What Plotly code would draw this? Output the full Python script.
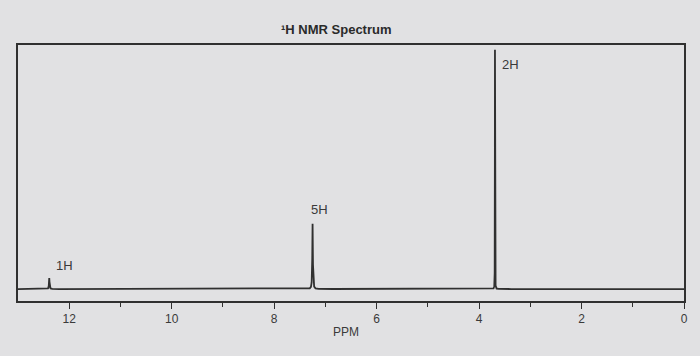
import numpy as np
import plotly.graph_objects as go

# Peak data (ppm, relative height, line width in ppm, integration label)
peak_ppm = [12.39, 7.25, 3.69]
peak_height = [4.6, 27.3, 100.0]
peak_width = [0.006, 0.006, 0.0015]
peak_label = ["1H", "5H", "2H"]
x_ticks = [12, 10, 8, 6, 4, 2, 0]

# Lorentzian line shape rendered from the peak list
ppm = np.linspace(13.0, 0.0, 52001)
spec = np.zeros_like(ppm)
for p, h, g in zip(peak_ppm, peak_height, peak_width):
    spec += h * g**2 / ((ppm - p) ** 2 + g**2)

line_col = "#303030"
bg = "#e1e1e3"
font_fam = "Liberation Sans, Arial"

fig = go.Figure()
fig.add_trace(go.Scatter(x=ppm, y=spec, mode="lines",
                         line=dict(color=line_col, width=1.8),
                         hoverinfo="skip", showlegend=False))

offsets = [(15, 13), (7, 14), (16, -15)]
for p, h, lab, (dx, dy) in zip(peak_ppm, peak_height, peak_label, offsets):
    fig.add_annotation(x=p, y=h, text=lab, showarrow=False,
                       xshift=dx, yshift=dy,
                       font=dict(family=font_fam, size=13, color="#3a3a3a"))

fig.add_annotation(x=0.478, y=1.0, xref="paper", yref="paper", yanchor="bottom",
                   yshift=6, text="<b>¹H NMR Spectrum</b>", showarrow=False,
                   font=dict(family=font_fam, size=13, color="#2a2a2a"))
fig.add_annotation(x=0.493, y=0, xref="paper", yref="paper", yanchor="top",
                   yshift=-22, text="PPM", showarrow=False,
                   font=dict(family=font_fam, size=12, color="#3a3a3a"))

fig.update_layout(
    width=700, height=356,
    margin=dict(l=18, r=12, t=45, b=55),
    paper_bgcolor=bg, plot_bgcolor=bg,
    xaxis=dict(range=[13.0, 0.0], tickvals=x_ticks, ticktext=[str(t) for t in x_ticks],
               showgrid=False, zeroline=False, showline=True, linecolor=line_col,
               linewidth=1.6, mirror=True, ticks="outside", ticklen=6, tickwidth=1.3,
               tickcolor=line_col,
               minor=dict(tickvals=[11, 9, 7, 5, 3, 1], ticks="outside", ticklen=4,
                          tickwidth=1.3, tickcolor=line_col),
               tickfont=dict(family=font_fam, size=12, color="#3a3a3a")),
    yaxis=dict(range=[-5, 102], showgrid=False, zeroline=False, showline=True,
               linecolor=line_col, linewidth=1.6, mirror=True, showticklabels=False,
               ticks=""),
)

fig.write_html("out.html")
